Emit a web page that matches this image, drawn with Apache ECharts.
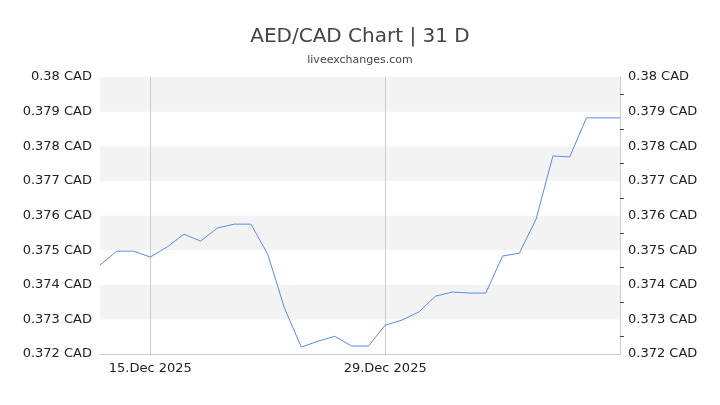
<!DOCTYPE html>
<html><head><meta charset="utf-8">
<script src="https://cdn.jsdelivr.net/npm/echarts@6/dist/echarts.min.js"></script>
<style>html,body{margin:0;padding:0;background:#fff}#c{width:720px;height:405px}</style>
</head><body><div id="c"></div>
<script>
const dates = ['12.Dec','13.Dec','14.Dec','15.Dec 2025','16.Dec','17.Dec','18.Dec','19.Dec','20.Dec','21.Dec','22.Dec','23.Dec','24.Dec','25.Dec','26.Dec','27.Dec','28.Dec','29.Dec 2025','30.Dec','31.Dec','1.Jan','2.Jan','3.Jan','4.Jan','5.Jan','6.Jan','7.Jan','8.Jan','9.Jan','10.Jan','11.Jan','12.Jan'];
const rates = [0.37457,0.37497,0.37497,0.3748,0.37509,0.37546,0.37526,0.37564,0.37575,0.37575,0.37488,0.37332,0.3722,0.37237,0.37251,0.37223,0.37223,0.37283,0.37298,0.37321,0.37367,0.37379,0.37376,0.37376,0.37483,0.37491,0.3759,0.37772,0.37769,0.37882,0.37882,0.37882];
const labelIdx = [3, 17];

const chart = echarts.init(document.getElementById('c'));
const yBase = {
  type: 'value', min: 0.372, max: 0.38, interval: 0.001,
  axisLabel: { formatter: v => +v.toFixed(3) + ' CAD', color: '#222', fontSize: 13, fontFamily: 'DejaVu Sans' },
  axisLine: { show: false }, axisTick: { show: false }
};
chart.setOption({
  animation: false,
  title: {
    text: 'AED/CAD Chart | 31 D', subtext: 'liveexchanges.com', left: 'center', top: 22,
    textStyle: { fontSize: 20, fontWeight: 'normal', color: '#444', fontFamily: 'DejaVu Sans' },
    subtextStyle: { fontSize: 11, color: '#444', fontFamily: 'DejaVu Sans' }, itemGap: 8
  },
  grid: { left: 100, right: 100, top: 77, bottom: 51 },
  xAxis: {
    type: 'category', data: dates, boundaryGap: false,
    axisLine: { lineStyle: { color: '#ccc' } },
    axisTick: { show: false },
    axisLabel: { interval: i => labelIdx.includes(i), color: '#222', fontSize: 13, fontFamily: 'DejaVu Sans' },
    splitLine: { show: true, interval: i => labelIdx.includes(i), lineStyle: { color: '#ccc' } }
  },
  yAxis: [
    Object.assign({}, yBase, {
      splitLine: { show: false },
      splitArea: { show: true, areaStyle: { color: ['#fff', '#f3f3f3'] } }
    }),
    Object.assign({}, yBase, {
      position: 'right', splitLine: { show: false },
      axisLine: { show: true, lineStyle: { color: '#ccc' } },
      minorTick: { show: true, splitNumber: 2, length: 4, lineStyle: { color: '#444' } }
    })
  ],
  series: [{
    type: 'line', data: rates, showSymbol: false,
    lineStyle: { color: '#5b8ae8', width: 1 }
  }]
});
</script></body></html>
